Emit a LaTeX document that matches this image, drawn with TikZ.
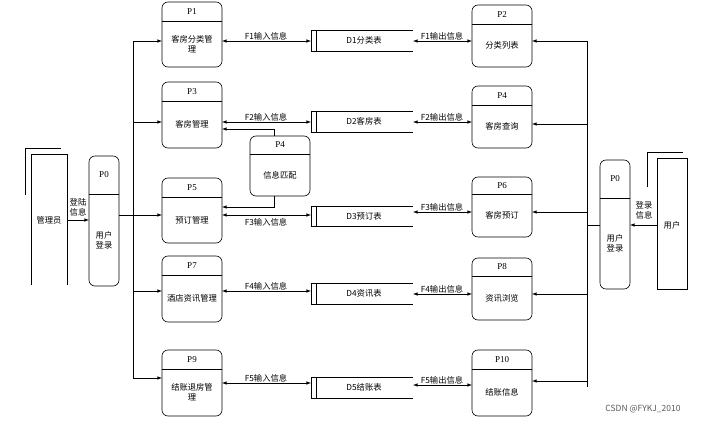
\documentclass[tikz,border=0pt]{standalone}
\usepackage{fontspec}
\newfontfamily\cjk{Noto Sans CJK SC}
\setmainfont{Liberation Serif}
\begin{document}
\begin{tikzpicture}[x=1pt,y=-1pt,line width=0.6pt,
  arr/.style={-latex},
  darr/.style={latex-latex},
  lbl/.style={font=\cjk\fontsize{8.3}{10}\selectfont,inner sep=1pt}]
\useasboundingbox (0,0) rectangle (709,425);
\newcommand\proc[7]{%
  \draw[rounded corners=6pt] (#2,#3) rectangle (#4,#5);
  \draw (#2,#6) -- (#4,#6);
  \node[font=\fontsize{9}{10}\selectfont] (#1t) at ({(#2+#4)/2},{(#3+#6)/2}) {#7};
  \coordinate (#1) at ({(#2+#4)/2},{(#6+#5)/2});}
\proc{p1}{162}{2}{222}{67}{21}{P1}
\node[lbl,align=center] at (p1) {客房分类管\\理};
\proc{p3}{162}{82}{222}{148}{101}{P3}
\node[lbl] at (p3) {客房管理};
\proc{p5}{162}{178}{222}{243}{197}{P5}
\node[lbl] at (p5) {预订管理};
\proc{p7}{162}{256}{222}{322}{275}{P7}
\node[lbl] at (p7) {酒店资讯管理};
\proc{p9}{162}{350}{222}{416}{369}{P9}
\node[lbl,align=center] at (p9) {结账退房管\\理};
\proc{p4m}{250}{136}{310}{196}{154}{P4}
\node[lbl] at (p4m) {信息匹配};
\proc{p2}{472}{5}{532}{67}{24}{P2}
\node[lbl] at (p2) {分类列表};
\proc{p4}{472}{86}{532}{148}{105}{P4}
\node[lbl] at (p4) {客房查询};
\proc{p6}{472}{177}{532}{237}{194}{P6}
\node[lbl] at (p6) {客房预订};
\proc{p8}{472}{258}{532}{320}{276}{P8}
\node[lbl] at (p8) {资讯浏览};
\proc{p10}{472}{350}{532}{416}{369}{P10}
\node[lbl] at (p10) {结账信息};
\proc{p0l}{89}{156}{119}{286}{194}{P0}
\node[lbl,align=center] at (p0l) {用户\\登录};
\proc{p0r}{600}{160}{630}{289}{198}{P0}
\node[lbl,align=center] at (p0r) {用户\\登录};
% external entities
\draw (25,195) -- (25,148) -- (61,148);
\draw (31,285) -- (31,154) -- (67,154) -- (67,285);
\node[lbl] (adm) at (49,220) {管理员};
\draw (647,187) -- (647,152) -- (683,152);
\draw (657,289) -- (657,158) -- (687,158) -- (687,289) -- cycle;
\node[lbl] (usr) at (672,225) {用户};
% stores
\newcommand\store[4]{%
  \draw (413,#2) -- (311,#2) -- (311,#3) -- (413,#3);
  \draw (316,#2) -- (316,#3);
  \node[lbl] (#1) at (364,{(#2+#3)/2}) {#4};}
\store{d1}{30}{51}{D1分类表}
\store{d2}{111}{132}{D2客房表}
\store{d3}{206}{226}{D3预订表}
\store{d4}{283}{304}{D4资讯表}
\store{d5}{377}{398}{D5结账表}
% left bus
\draw (133,41) -- (133,378);
\draw (119,215) -- (133,215);
\foreach \y in {41,122,215,291,378} \draw[arr] (133,\y) -- (162,\y);
\draw[arr] (67,220) -- (89,220);
\node[lbl,align=center] at (78,207) {登陆\\信息};
% right bus
\draw (587,41) -- (587,387);
\draw (587,225) -- (600,225);
\foreach \y in {41,124,212,294,381} \draw[arr] (587,\y) -- (532,\y);
\draw[arr] (657,225) -- (630,225);
\node[lbl,align=center] at (644,210) {登录\\信息};
% P4 links
\draw[arr] (274,136) -- (274,129) -- (222,129);
\draw[arr] (274,196) -- (274,207) -- (222,207);
% flows
\foreach \y/\t in {41/F1输入信息,122/F2输入信息,291/F4输入信息,383/F5输入信息}{
  \draw[darr] (222,\y) -- (311,\y);
  \node[lbl,anchor=south] at (266,\y) {\t};}
\draw[darr] (222,215) -- (311,215);
\node[lbl,anchor=north] at (266,217) {F3输入信息};
\foreach \y/\t in {41/F1输出信息,122/F2输出信息,212/F3输出信息,294/F4输出信息,385/F5输出信息}{
  \draw[darr] (413,\y) -- (472,\y);
  \node[lbl,anchor=south] at (442,\y) {\t};}
\node[font=\fontsize{8.5}{9}\selectfont\cjk,text=gray!70!black] at (643,409) {CSDN @FYKJ\_2010};
\end{tikzpicture}
\end{document}
